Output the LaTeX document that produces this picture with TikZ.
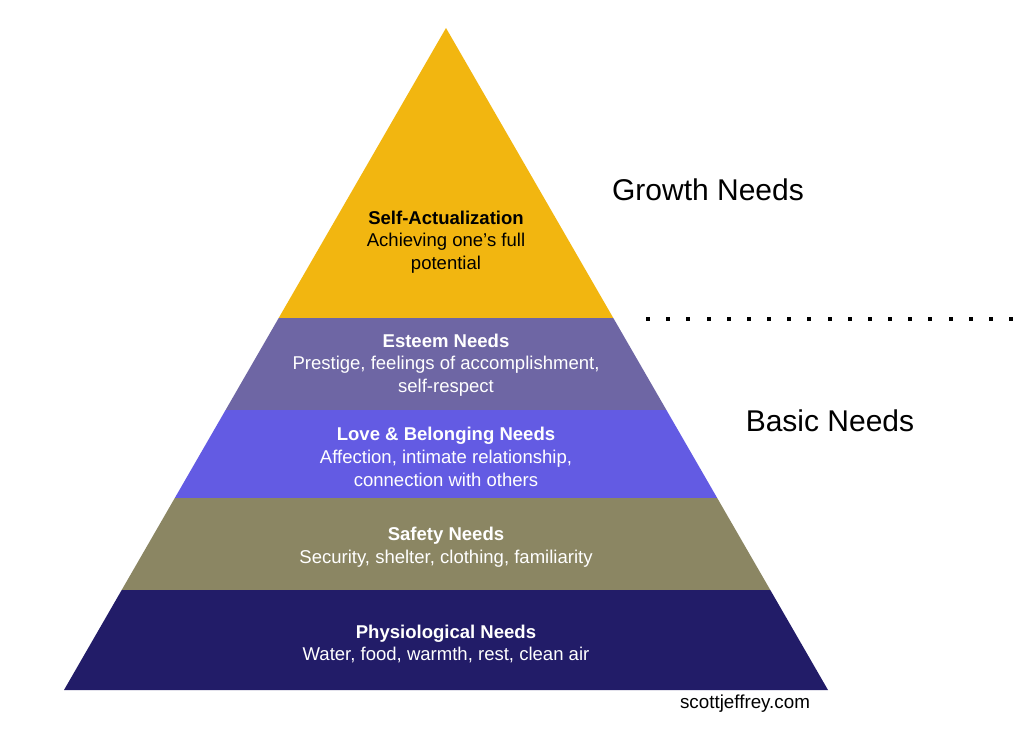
\documentclass[tikz,border=0pt]{standalone}
\usepackage{fontspec}
\setmainfont{Liberation Sans}
\definecolor{selfc}{HTML}{F2B610}
\definecolor{esteemc}{HTML}{6E66A4}
\definecolor{lovec}{HTML}{635BE3}
\definecolor{safec}{HTML}{8B8663}
\definecolor{physc}{HTML}{221C68}
\tikzset{
  layertext/.style={align=center, text=white, font=\fontsize{13.9}{17}\selectfont},
  sidetext/.style={font=\fontsize{22.5}{27}\selectfont}
}
\begin{document}
\begin{tikzpicture}[x=0.75pt, y=-0.75pt, line join=round, line cap=round]
\useasboundingbox (0,0) rectangle (1024,746);
\fill[white] (0,0) rectangle (1024,746);
\path
(446,28) coordinate (T)
(278.7,318) coordinate (A1) (613.3,318) coordinate (B1)
(225.6,410) coordinate (A2) (666.4,410) coordinate (B2)
(174.8,498) coordinate (A3) (717.2,498) coordinate (B3)
(121.7,590) coordinate (A4) (770.3,590) coordinate (B4)
(64,690) coordinate (A5) (828,690) coordinate (B5)
;
\fill[selfc] (T)--(A1)--(B1)--cycle;
\fill[esteemc] (A1)--(A2)--(B2)--(B1)--cycle;
\fill[lovec] (A2)--(A3)--(B3)--(B2)--cycle;
\fill[safec] (A3)--(A4)--(B4)--(B3)--cycle;
\fill[physc] (A4)--(A5)--(B5)--(B4)--cycle;
% layer labels
\node[layertext, text=black] (sa) at (446,242) {\textbf{Self-Actualization}\\Achieving one’s full\\potential};
\node[layertext] (es) at (446,365) {\textbf{Esteem Needs}\\Prestige, feelings of accomplishment,\\self-respect};
\node[layertext] (lb) at (446,457) {\textbf{Love \& Belonging Needs}\\Affection, intimate relationship,\\connection with others};
\node[layertext] (sf) at (446,547) {\textbf{Safety Needs}\\Security, shelter, clothing, familiarity};
\node[layertext] (ph) at (446,644) {\textbf{Physiological Needs}\\Water, food, warmth, rest, clean air};
% side labels
\node[sidetext] (growth) at (708,190) {Growth Needs};
\node[sidetext] (basic) at (830,421) {Basic Needs};
\foreach \i in {0,...,18}
\fill[black] (648+20.17*\i-2,317) rectangle +(4,4);
\node[font=\fontsize{14.1}{17}\selectfont] (site) at (745,704) {scottjeffrey.com};
\end{tikzpicture}
\end{document}
